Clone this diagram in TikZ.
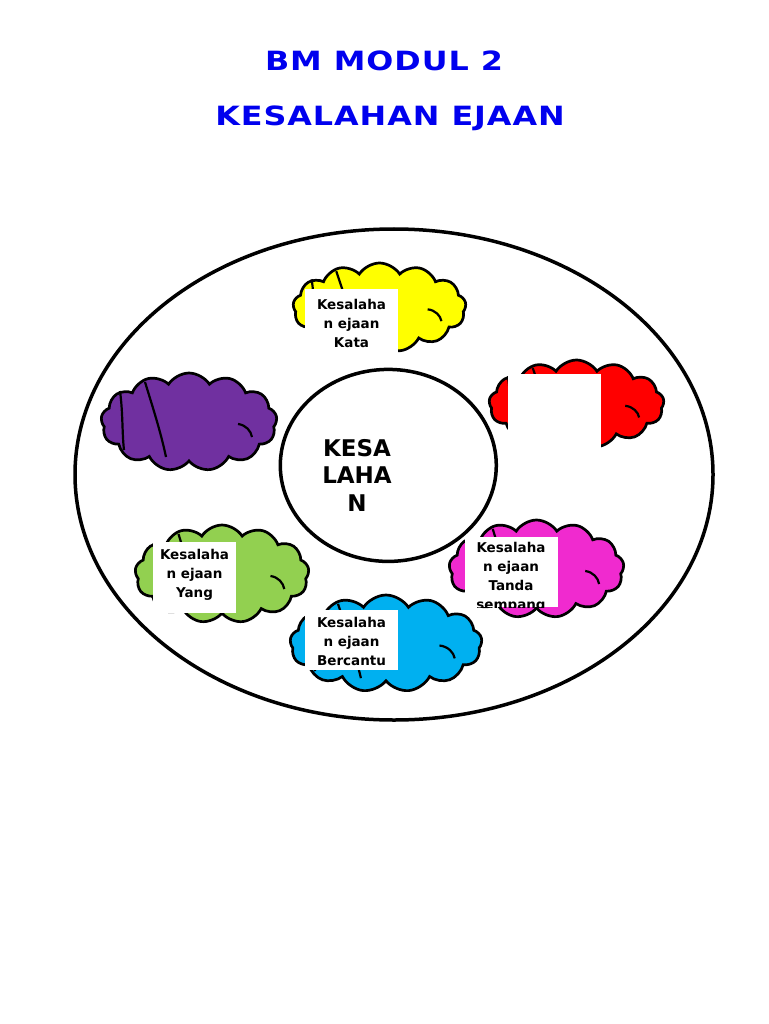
\documentclass[tikz,border=0pt]{standalone}
\usepackage{fontspec}
\setmainfont{DejaVu Sans}
\newfontfamily\titlefont[LetterSpace=3]{DejaVu Sans}
\usetikzlibrary{shapes.symbols,shapes.geometric}
\definecolor{ttlblue}{RGB}{0,0,238}
\definecolor{cyellow}{RGB}{255,255,0}
\definecolor{cpurple}{RGB}{112,48,160}
\definecolor{cred}{RGB}{255,0,0}
\definecolor{cgreen}{RGB}{146,208,80}
\definecolor{cmagenta}{RGB}{240,42,207}
\definecolor{cblue}{RGB}{0,176,240}
\tikzset{
  ring/.style={draw=black, line width=3.5pt},
  cloudshape/.style={cloud, cloud puffs=13, cloud puff arc=115, cloud ignores aspect,
     draw=black, line width=2.7pt, inner sep=0pt},
  fold/.style={draw=black, line width=2.2pt},
  whitebox/.style={rectangle, fill=white, draw=none, inner sep=0pt},
  lbl/.style={font=\bfseries\fontsize{13.5}{19}\selectfont, align=center, inner sep=0pt, anchor=north},
  ttl/.style={font=\titlefont\bfseries\fontsize{26.5}{30}\selectfont, text=ttlblue, inner sep=0pt, anchor=base},
  ctr/.style={font=\bfseries\fontsize{23}{27.5}\selectfont, align=center, inner sep=0pt, anchor=north}
}
\newcommand{\mycloud}[6]{%
  \node[cloudshape, fill=#2, minimum width=#5pt, minimum height=#6pt] (#1) at (#3,#4) {};
  \begin{scope}[shift={({#3-#5/2},{#4-#6/2})}, xscale=#5/176, yscale=#6/98]
    \draw[fold] (19,18) .. controls (22,40) and (21,60) .. (23,77);
    \draw[fold] (44,9) .. controls (52,35) and (60,60) .. (65,84);
    \draw[fold] (137,51) .. controls (145,52) and (150,58) .. (151,64);
  \end{scope}
}
\begin{document}
\begin{tikzpicture}[x=1pt, y=-1pt]
\useasboundingbox[fill=white] (0,0) rectangle (768,1024);
\node[ttl] (t1) at (384,71) {\scalebox{1.2}[1]{BM MODUL 2}};
\node[ttl] (t2) at (390,126) {\scalebox{1.2}[1]{KESALAHAN EJAAN}};
\draw[ring] (394,474.5) ellipse [x radius=319, y radius=245.5];
\node[ring, ellipse, minimum width=216pt, minimum height=192pt, inner sep=0pt] (inner) at (388.3,465.4) {};
\node[ctr] (ct) at (357,439) {KESA\\LAHA\\N};
% clouds
\mycloud{cy}{cyellow}{379.5}{307.5}{173}{89}
\mycloud{cp}{cpurple}{189}{422}{176}{98}
\mycloud{cr}{cred}{576.5}{404}{175}{88}
\mycloud{cg}{cgreen}{222}{574}{174}{98}
\mycloud{cm}{cmagenta}{536.5}{569}{175}{98}
\mycloud{cb}{cblue}{386}{643.5}{192}{97}
% white label boxes
\node[whitebox, minimum width=93pt, minimum height=67pt] (by) at (351.5,322.5) {};
\node[lbl] (ly) at (351.5,298.7) {Kesalaha\\n ejaan\\Kata};
\node[whitebox, minimum width=93pt, minimum height=76pt] (br) at (554.5,412) {};
\node[whitebox, minimum width=83pt, minimum height=71pt] (bg) at (194.5,577.5) {};
\node[lbl] (lg) at (194.5,548.7) {Kesalaha\\n ejaan\\Yang};
\node[whitebox, minimum width=93pt, minimum height=70pt] (bm) at (511.5,572) {};
\begin{scope}
  \clip (465,537) rectangle (558,607);
  \node[lbl] (lm) at (511,541.7) {Kesalaha\\n ejaan\\Tanda\\sempang};
\end{scope}
\node[whitebox, minimum width=93pt, minimum height=60pt] (bb) at (351.5,640) {};
\node[lbl] (lb) at (351.5,617.4) {Kesalaha\\n ejaan\\Bercantu};
\end{tikzpicture}
\end{document}
